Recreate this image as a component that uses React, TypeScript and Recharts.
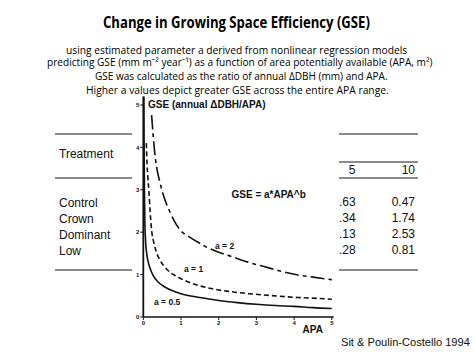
import { useLayoutEffect, useRef, useState } from "react";
import { LineChart, Line, XAxis, YAxis } from "recharts";

// curve readings (APA, GSE) taken off the scanned figure
const apaHalf = [0.015, 0.02, 0.03, 0.04, 0.06, 0.09, 0.13, 0.18, 0.26, 0.4, 0.55, 0.75, 1, 1.5, 2, 2.5, 3, 3.5, 4, 4.5, 5];
const gseHalf = [5.2, 4.2, 3.0, 2.3, 1.8, 1.5, 1.3, 1.15, 0.98, 0.82, 0.72, 0.63, 0.55, 0.46, 0.39, 0.34, 0.3, 0.27, 0.25, 0.22, 0.2];

const apaOne = [0.08, 0.1, 0.12, 0.15, 0.18, 0.22, 0.28, 0.36, 0.45, 0.55, 0.7, 0.9, 1.1, 1.4, 1.8, 2.3, 2.8, 3.2, 3.6, 4.1, 4.6, 5];
const gseOne = [4.1, 3.6, 3.3, 2.95, 2.5, 2.05, 1.75, 1.5, 1.33, 1.2, 1.06, 0.95, 0.86, 0.76, 0.67, 0.6, 0.55, 0.52, 0.49, 0.46, 0.44, 0.42];

const apaTwo = [0.22, 0.26, 0.3, 0.35, 0.42, 0.5, 0.6, 0.72, 0.85, 1.0, 1.2, 1.42, 1.65, 1.9, 2.3, 2.75, 3.2, 3.65, 4.1, 4.5, 5];
const gseTwo = [4.76, 4.3, 3.9, 3.55, 3.25, 2.97, 2.7, 2.45, 2.22, 2.03, 1.9, 1.78, 1.66, 1.56, 1.44, 1.3, 1.19, 1.08, 0.99, 0.94, 0.88];

const xTicks = [0, 1, 2, 3, 4, 5];
const yTicks = [0, 1, 2, 3, 4, 5];

// table behind the figure
const treatments = ["Control", "Crown", "Dominant", "Low"];
const col5 = [".63", ".34", ".13", ".28"];
const col10 = ["0.47", "1.74", "2.53", "0.81"];
const rowY = [207, 223, 239, 255];

const toRows = (xs: number[], ys: number[]) => xs.map((apa, i) => ({ apa, gse: ys[i] }));
const half = toRows(apaHalf, gseHalf);
const one = toRows(apaOne, gseOne);
const two = toRows(apaTwo, gseTwo);

const slideFont = "'Open Sans', 'Noto Sans', sans-serif";
const arial = "'Liberation Sans', Arial, sans-serif";
const ink = "#111";
const rule = "#666";

const tickStyle = { fontSize: 6, fontWeight: 700, fill: ink, fontFamily: arial };

// squeezes a line of slide text horizontally so it spans `width` px (Calibri is narrower than what we have)
const FitText = ({ x, y, width, children, ...rest }: any) => {
  const ref = useRef<SVGTextElement>(null);
  const [k, setK] = useState(1);
  useLayoutEffect(() => {
    const w = ref.current ? ref.current.getComputedTextLength() : 0;
    if (w > 0) setK(width / w);
  }, [width]);
  return (
    <g transform={`translate(${x},${y}) scale(${k},1)`}>
      <text ref={ref} x={0} y={0} {...rest}>
        {children}
      </text>
    </g>
  );
};

export default function App() {
  return (
    <div style={{ position: "absolute", left: 0, top: 0, width: 474, height: 355, background: "#fff", overflow: "hidden" }}>
      <svg width={474} height={355} style={{ position: "absolute", left: 0, top: 0 }}>
        <FitText x={103} y={27.5} width={267} fontFamily={slideFont} fontWeight={700} fontSize={16} fill="#000">
          Change in Growing Space Efficiency (GSE)
        </FitText>
        <FitText x={66} y={53.5} width={342} fontFamily={slideFont} fontSize={11.5} fill="#000">
          using estimated parameter a derived from nonlinear regression models
        </FitText>
        <FitText x={47} y={66} width={386} fontFamily={slideFont} fontSize={10.5} fill="#000">
          predicting GSE (mm m⁻² year⁻¹) as a function of area potentially available (APA, m²)
        </FitText>
        <FitText x={95} y={80} width={293} fontFamily={slideFont} fontSize={10.5} fill="#000">
          GSE was calculated as the ratio of annual ΔDBH (mm) and APA.
        </FitText>
        <FitText x={86} y={93.5} width={303} fontFamily={slideFont} fontSize={11.5} fill="#000">
          Higher a values depict greater GSE across the entire APA range.
        </FitText>

        <g stroke={rule} strokeWidth={1.5}>
          <line x1={55} x2={132} y1={134} y2={134} />
          <line x1={55} x2={132} y1={178} y2={178} />
          <line x1={55} x2={132} y1={270} y2={270} />
          <line x1={339} x2={418} y1={134} y2={134} />
          <line x1={339} x2={418} y1={162} y2={162} />
          <line x1={339} x2={418} y1={178} y2={178} />
          <line x1={339} x2={418} y1={270} y2={270} />
        </g>
        <g fontFamily={arial} fontSize={12} fill={ink}>
          <text x={59} y={157.5}>Treatment</text>
          <text x={352} y={174} textAnchor="middle">5</text>
          <text x={415} y={174} textAnchor="end">10</text>
          {treatments.map((t, i) => (
            <text key={t} x={59} y={rowY[i]}>{t}</text>
          ))}
          {col5.map((v, i) => (
            <text key={"a" + i} x={339} y={rowY[i] - 1}>{v}</text>
          ))}
          {col10.map((v, i) => (
            <text key={"b" + i} x={415} y={rowY[i] - 1} textAnchor="end">{v}</text>
          ))}
        </g>
        <FitText x={341} y={345.5} width={129} fontFamily={arial} fontSize={10.5} fill={ink}>
          Sit &amp; Poulin-Costello 1994
        </FitText>
      </svg>

      <div style={{ position: "absolute", left: 133, top: 96 }}>
        <LineChart width={206} height={240} margin={{ top: 0.5, right: 5.3, bottom: 0, left: 0 }}>
          <XAxis
            type="number"
            dataKey="apa"
            domain={[0, 5.05]}
            ticks={xTicks}
            allowDuplicatedCategory={false}
            height={19}
            tickSize={3}
            tickMargin={1}
            tick={tickStyle}
            axisLine={{ stroke: ink, strokeWidth: 1.5 }}
            tickLine={{ stroke: ink }}
          />
          <YAxis
            type="number"
            dataKey="gse"
            domain={[0, 5.2]}
            ticks={yTicks}
            width={10.3}
            tickSize={3}
            tickMargin={1}
            tick={tickStyle}
            axisLine={{ stroke: ink, strokeWidth: 1.8 }}
            tickLine={{ stroke: ink }}
          />
          <Line data={half} dataKey="gse" type="monotone" stroke={ink} strokeWidth={1.6} dot={false} isAnimationActive={false} />
          <Line data={one} dataKey="gse" type="monotone" stroke={ink} strokeWidth={1.6} strokeDasharray="5 3" dot={false} isAnimationActive={false} />
          <Line data={two} dataKey="gse" type="monotone" stroke={ink} strokeWidth={1.6} strokeDasharray="14 4 4 4" dot={false} isAnimationActive={false} />
        </LineChart>
      </div>

      <svg width={474} height={355} style={{ position: "absolute", left: 0, top: 0, pointerEvents: "none" }}>
        <g fontFamily={arial} fontWeight={700} fill={ink}>
          <text x={148} y={107.5} fontSize={10}>GSE  (annual ΔDBH/APA)</text>
          <text x={231.5} y={197.5} fontSize={10}>GSE = a*APA^b</text>
          <text x={215} y={249} fontSize={8.5}>a = 2</text>
          <text x={184} y={271.5} fontSize={8.5}>a = 1</text>
          <text x={154} y={305} fontSize={8.5}>a = 0.5</text>
          <text x={302.5} y={333} fontSize={10}>APA</text>
        </g>
      </svg>
    </div>
  );
}
